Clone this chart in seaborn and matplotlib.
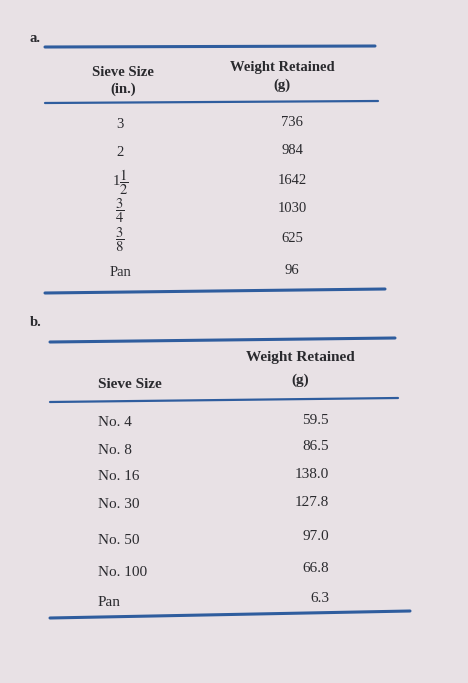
import numpy as np
import matplotlib
matplotlib.use("Agg")
import matplotlib.pyplot as plt
import seaborn as sns

sns.set_style("white")
plt.rcParams['font.family'] = ['Liberation Serif', 'DejaVu Serif']
plt.rcParams['mathtext.fontset'] = 'stix'

# table a
sieve_a = ['3', '2', r'1$\dfrac{1}{2}$', r'$\dfrac{3}{4}$', r'$\dfrac{3}{8}$', 'Pan']
weight_a = ['736', '984', '1642', '1030', '625', '96']
# table b
sieve_b = ['No. 4', 'No. 8', 'No. 16', 'No. 30', 'No. 50', 'No. 100', 'Pan']
weight_b = ['59.5', '86.5', '138.0', '127.8', '97.0', '66.8', '6.3']

bg = '#e8e1e5'
blue = '#2f5d9e'
ink = '#2a2a2e'
fs = 10.5

fig = plt.figure(figsize=(4.68, 6.83), dpi=100, facecolor=bg)
ax = fig.add_axes([0, 0, 1, 1])
ax.set_facecolor(bg)
ax.set_xlim(0, 468)
ax.set_ylim(683, 0)
ax.axis('off')

# --- table a ---
ax.text(30, 38, 'a.', fontsize=fs, fontweight='bold', color=ink, va='center')
ax.plot([45, 375], [47, 46], color=blue, lw=2.2)
ax.text(123, 72, 'Sieve Size', fontsize=fs, fontweight='bold', color=ink, ha='center', va='center')
ax.text(123, 89, '(in.)', fontsize=fs, fontweight='bold', color=ink, ha='center', va='center')
ax.text(282, 67, 'Weight Retained', fontsize=fs, fontweight='bold', color=ink, ha='center', va='center')
ax.text(282, 85, '(g)', fontsize=fs, fontweight='bold', color=ink, ha='center', va='center')
ax.plot([45, 378], [103, 101], color=blue, lw=1.6)
ya = [124, 153, 182, 211, 240, 272]
for s, w, y in zip(sieve_a, weight_a, ya):
    ax.text(120, y, s, fontsize=fs, color=ink, ha='center', va='center')
    ax.text(292, y - 2, w, fontsize=fs, color=ink, ha='center', va='center')
ax.plot([45, 385], [293, 289], color=blue, lw=2.2)

# --- table b ---
ax.text(30, 323, 'b.', fontsize=fs, fontweight='bold', color=ink, va='center')
ax.plot([50, 395], [342, 338], color=blue, lw=2.2)
ax.text(300, 358, 'Weight Retained', fontsize=fs + 0.5, fontweight='bold', color=ink, ha='center', va='center')
ax.text(300, 380, '(g)', fontsize=fs + 0.5, fontweight='bold', color=ink, ha='center', va='center')
ax.text(130, 385, 'Sieve Size', fontsize=fs + 0.5, fontweight='bold', color=ink, ha='center', va='center')
ax.plot([50, 398], [402, 398], color=blue, lw=1.6)
yb = [423, 450, 477, 505, 540, 572, 602]
for s, w, y in zip(sieve_b, weight_b, yb):
    ax.text(98, y, s, fontsize=fs + 0.5, color=ink, ha='left', va='center')
    ax.text(329, y - 3, w, fontsize=fs + 0.5, color=ink, ha='right', va='center')
ax.plot([50, 410], [618, 611], color=blue, lw=2.2)

fig.savefig('out.png', dpi=100, facecolor=bg)
